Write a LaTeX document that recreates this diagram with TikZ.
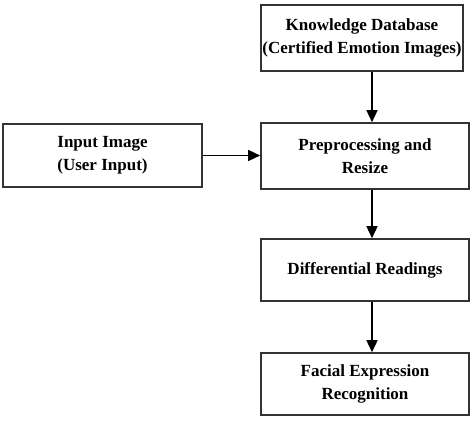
\documentclass[tikz,border=0pt]{standalone}
\usepackage{fontspec}
\setmainfont{Liberation Serif}
\usetikzlibrary{arrows.meta}

\begin{document}
\begin{tikzpicture}[x=1pt,y=-1pt]
    \tikzset{
        stage/.style={draw=black!80, line width=1.6pt, align=center, inner sep=0pt,
            font=\fontsize{17}{23}\selectfont\bfseries},
        flow/.style={line width=1.5pt, -{Triangle[length=12pt,width=11pt]}}
    }
    \useasboundingbox (0,0) rectangle (474,433);
    \node[stage, minimum width=202pt, minimum height=66pt] (kb) at (362,38)
        {Knowledge Database\\(Certified Emotion Images)};
    \node[stage, minimum width=199pt, minimum height=63pt] (inp) at (102.5,155.5)
        {Input Image\\(User Input)};
    \node[stage, minimum width=208pt, minimum height=66pt] (pre) at (365,156)
        {Preprocessing and\\Resize};
    \node[stage, minimum width=208pt, minimum height=62pt] (diff) at (365,270)
        {Differential Readings};
    \node[stage, minimum width=208pt, minimum height=62pt] (fer) at (365,384)
        {Facial Expression\\Recognition};
    \coordinate (axis) at (372,0);
    \draw[flow] (kb.south -| axis) -- (pre.north -| axis);
    \draw[flow] (inp.east) -- (pre.west |- inp.east);
    \draw[flow] (pre.south -| axis) -- (diff.north -| axis);
    \draw[flow] (diff.south -| axis) -- (fer.north -| axis);
\end{tikzpicture}
\end{document}
